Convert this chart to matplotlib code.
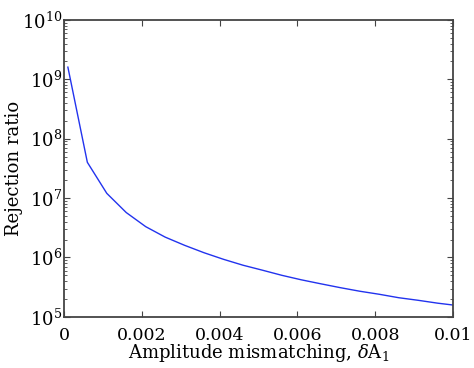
import matplotlib
matplotlib.use('Agg')
import matplotlib.pyplot as plt
import numpy as np

# amplitude mismatch and rejection ratio
mismatch = [0.0001, 0.0006, 0.0011, 0.0016, 0.0021, 0.0026, 0.0031, 0.0036,
            0.0041, 0.0046, 0.0051, 0.0056, 0.0061, 0.0066, 0.0071, 0.0076,
            0.0081, 0.0086, 0.0091, 0.0096, 0.0100]
rejection = [1.6e9, 4.0e7, 1.2e7, 5.7e6, 3.3e6, 2.2e6, 1.6e6, 1.2e6,
             9.3e5, 7.4e5, 6.1e5, 5.0e5, 4.2e5, 3.6e5, 3.1e5, 2.7e5,
             2.4e5, 2.1e5, 1.9e5, 1.7e5, 1.58e5]
xticks = [0, 0.002, 0.004, 0.006, 0.008, 0.01]
xticklabels = ['0', '0.002', '0.004', '0.006', '0.008', '0.01']

plt.rcParams['font.family'] = 'DejaVu Serif'
plt.rcParams['mathtext.fontset'] = 'dejavuserif'

fig = plt.figure(figsize=(4.74, 3.68), dpi=100)
ax = fig.add_axes([0.135, 0.139, 0.821, 0.807])

ax.semilogy(mismatch, rejection, color='#2233ee', linewidth=1.0)
ax.set_xlim(0, 0.01)
ax.set_ylim(1e5, 1e10)
ax.set_xticks(xticks)
ax.set_xticklabels(xticklabels)

for s in ax.spines.values():
    s.set_color('#444444')
    s.set_linewidth(1.3)
ax.tick_params(which='both', direction='in', top=True, right=True,
               colors='#444444', labelcolor='black', labelsize=12.5)
ax.tick_params(which='major', length=4)
ax.tick_params(which='minor', length=2)
ax.tick_params(axis='x', pad=7)
ax.tick_params(axis='y', pad=1, labelsize=13)

ax.set_xlabel(r'Amplitude mismatching, $\delta$A$_1$', fontsize=13, labelpad=-1)
ax.set_ylabel('Rejection ratio', fontsize=13)
ax.yaxis.set_label_coords(-0.105, 0.5)

fig.savefig('out.png', dpi=100)
